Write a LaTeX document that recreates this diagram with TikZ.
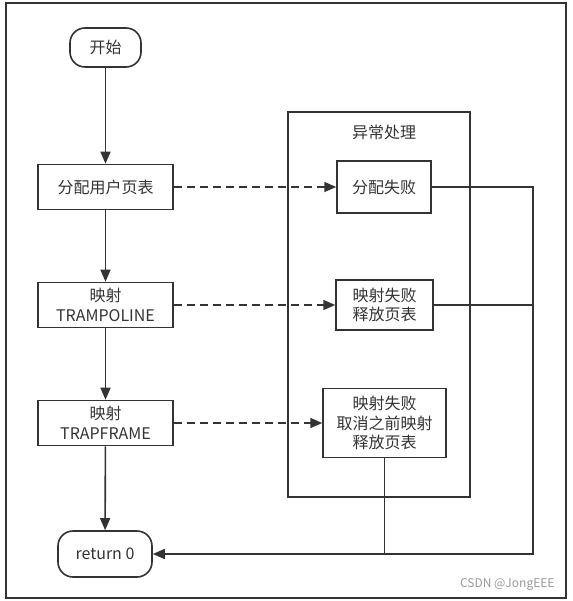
\documentclass[tikz,border=0pt]{standalone}
\usepackage{fontspec}
\setmainfont{Noto Sans CJK SC}
\usetikzlibrary{arrows.meta}
\definecolor{ink}{HTML}{333333}

\begin{document}
\begin{tikzpicture}[x=1pt, y=-1pt, >={Triangle[length=12pt, width=10pt]}]
	\tikzstyle{every node} = [font=\fontsize{16}{19.5}\selectfont, text=ink, align=center]
	\tikzstyle{stepbox} = [draw=ink, line width=1.6pt, rectangle, minimum width=135pt, minimum height=45pt]
	\tikzstyle{endbox} = [draw=ink, line width=1.6pt, rectangle, rounded corners=15pt]
	\tikzstyle{failbox} = [draw=ink, line width=1.5pt, rectangle]
	\tikzstyle{flow} = [draw=ink, line width=1.6pt]
	\useasboundingbox (0,0) rectangle (572,601);
	\draw [draw=ink, line width=1.8pt] (6,3) rectangle (566,598);
	\node [draw=ink, line width=1.5pt, minimum width=182pt, minimum height=385pt] (Handler) at (379,304.5) {};
	\node (HandlerTitle) at (384,132) {异常处理};
	\node [endbox, minimum width=71pt, minimum height=39pt] (Start) at (105.5,47.5) {开始};
	\node [stepbox] (Alloc) at (105.5,187) {分配用户页表};
	\node [stepbox] (Tramp) at (105.5,305) {映射\\TRAMPOLINE};
	\node [stepbox] (Trapf) at (105.5,423) {映射\\TRAPFRAME};
	\node [endbox, minimum width=94pt, minimum height=46pt] (Ret) at (105,554) {return 0};
	\node [failbox, minimum width=94pt, minimum height=52pt] (AllocFail) at (384,187) {分配失败};
	\node [failbox, minimum width=97pt, minimum height=50pt] (MapFail) at (384.5,305) {映射失败\\释放页表};
	\node [failbox, minimum width=123pt, minimum height=69pt] (UnmapFail) at (384.5,423) {映射失败\\取消之前映射\\释放页表};
	\coordinate (Join) at (533,554);
	\node [anchor=east, font=\fontsize{12}{12}\selectfont, text=gray!80] (Mark) at (558,585) {CSDN @JongEEE};
	\draw [flow, ->] (Start)--(Alloc);
	\draw [flow, ->] (Alloc)--(Tramp);
	\draw [flow, ->] (Tramp)--(Trapf);
	\draw [flow, ->] (Trapf)--(Ret);
	\draw [flow, ->, dash pattern=on 8pt off 5pt] (Alloc)--(AllocFail);
	\draw [flow, ->, dash pattern=on 8pt off 5pt] (Tramp)--(MapFail);
	\draw [flow, ->, dash pattern=on 8pt off 5pt] (Trapf)--(UnmapFail);
	\draw [flow, ->] (AllocFail.east) -| (Join) -- (Ret.east);
	\draw [flow] (MapFail.east) -- (MapFail.east -| Join);
	\draw [flow] (UnmapFail.south) -- (UnmapFail.south |- Join);
\end{tikzpicture}
\end{document}
